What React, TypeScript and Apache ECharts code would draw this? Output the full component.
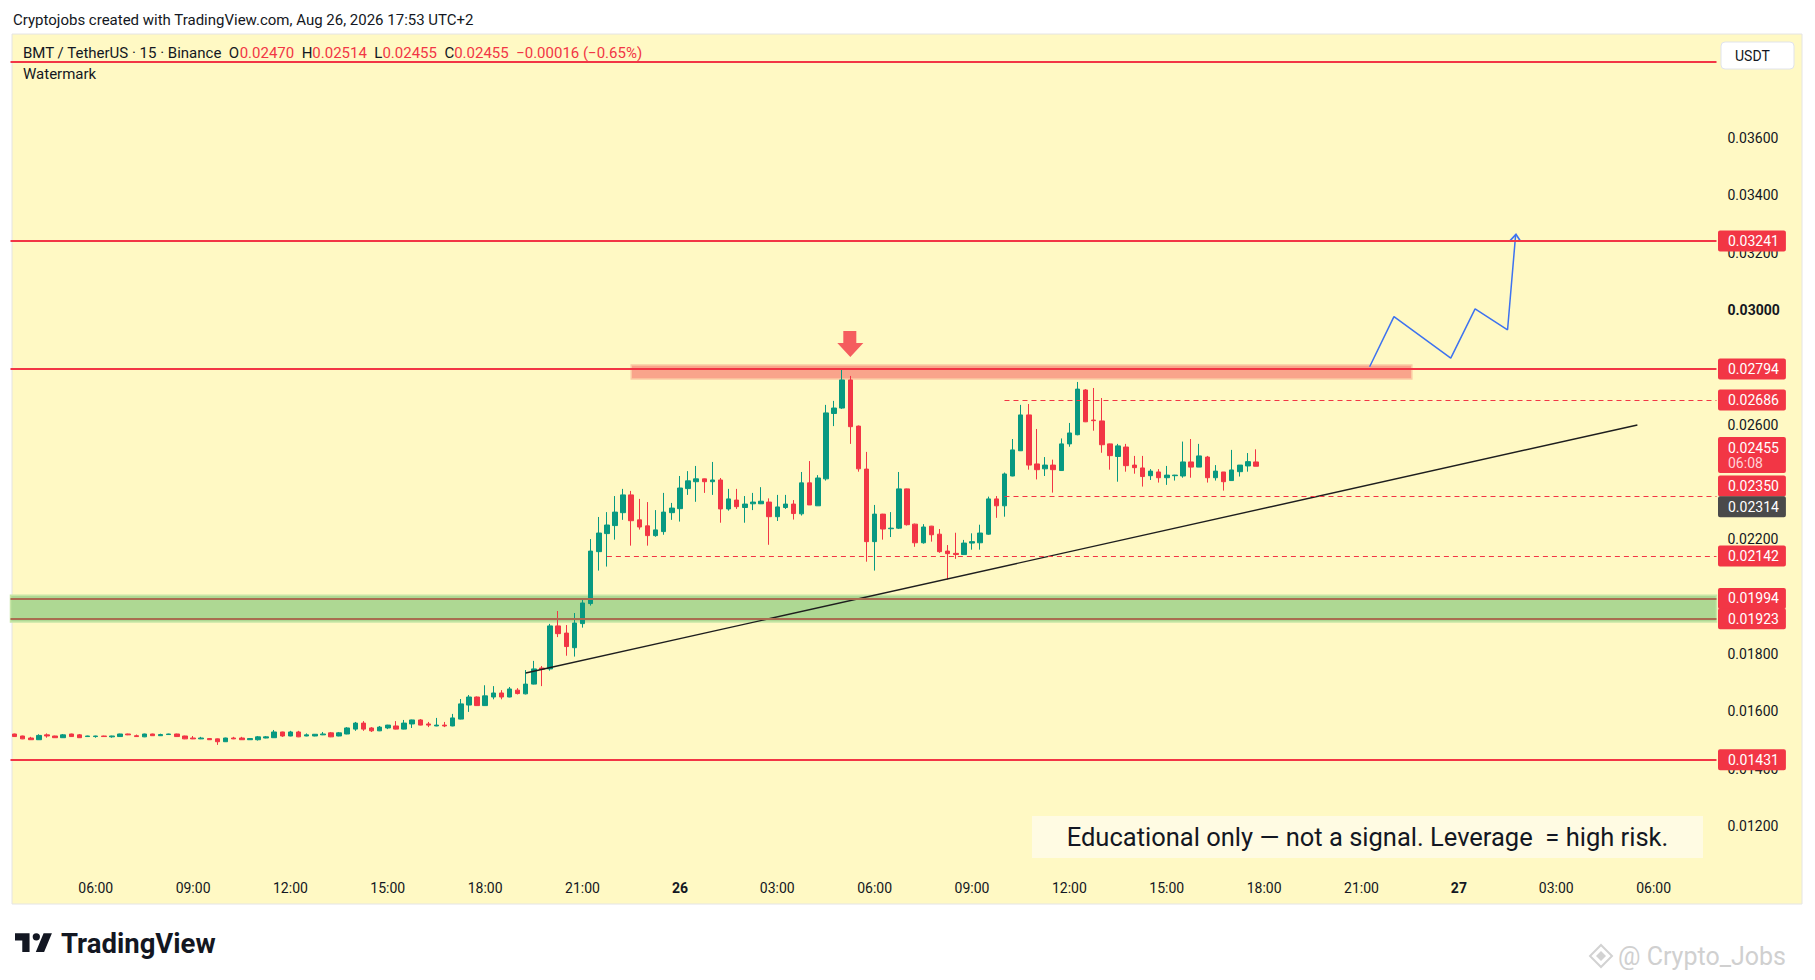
import React, { useEffect, useRef } from "react";
import * as echarts from "echarts";

const FONT = "Roboto, 'Noto Sans', sans-serif";
const UP = "#089981";
const DOWN = "#F23645";
const TEXT = "#131722";

// 15-minute candles, 25 Aug 03:30 -> 26 Aug 17:45 : [open, high, low, close]
const candles: number[][] = [
  [0.01521, 0.01522, 0.01511, 0.01512], [0.01514, 0.01515, 0.01503, 0.01504], [0.01507, 0.01511, 0.015, 0.01501],
  [0.01501, 0.0152, 0.015, 0.01516], [0.01518, 0.01523, 0.01508, 0.01514], [0.01514, 0.01515, 0.01507, 0.01508],
  [0.01508, 0.01521, 0.01507, 0.01518], [0.01521, 0.01522, 0.01511, 0.01512], [0.01518, 0.01521, 0.01507, 0.01508],
  [0.01512, 0.01515, 0.01511, 0.01514], [0.01512, 0.01515, 0.01508, 0.01514], [0.01514, 0.01515, 0.01511, 0.01512],
  [0.01511, 0.01515, 0.01508, 0.01514], [0.01512, 0.01522, 0.01511, 0.01521], [0.01521, 0.01522, 0.01517, 0.01518],
  [0.01515, 0.01519, 0.01511, 0.01512], [0.01511, 0.01522, 0.0151, 0.01521], [0.01521, 0.01522, 0.01514, 0.01515],
  [0.01515, 0.01522, 0.01514, 0.01519], [0.01519, 0.01522, 0.01518, 0.01521], [0.01521, 0.01522, 0.01511, 0.01512],
  [0.01514, 0.01515, 0.01503, 0.01504], [0.01507, 0.01514, 0.01503, 0.01504], [0.01504, 0.01511, 0.01503, 0.01507],
  [0.01505, 0.01507, 0.015, 0.01501], [0.01504, 0.01505, 0.01483, 0.01494], [0.01494, 0.01508, 0.01493, 0.01507],
  [0.01507, 0.01511, 0.01503, 0.01504], [0.01507, 0.01511, 0.015, 0.01501], [0.01501, 0.01507, 0.015, 0.01505],
  [0.01501, 0.01514, 0.01498, 0.01511], [0.01507, 0.01514, 0.01506, 0.01511], [0.01508, 0.01535, 0.01507, 0.01528],
  [0.01528, 0.01529, 0.01511, 0.01514], [0.01514, 0.01532, 0.01513, 0.01528], [0.01528, 0.01532, 0.0151, 0.01511],
  [0.01514, 0.01523, 0.01513, 0.01518], [0.01514, 0.01521, 0.01513, 0.0152], [0.01518, 0.01528, 0.01517, 0.01521],
  [0.01525, 0.01528, 0.0151, 0.01511], [0.01514, 0.01528, 0.01513, 0.01525], [0.01521, 0.01545, 0.0152, 0.01542],
  [0.01538, 0.01563, 0.01532, 0.01559], [0.01559, 0.01566, 0.01532, 0.01538], [0.01542, 0.01545, 0.01528, 0.01532],
  [0.01532, 0.01549, 0.01531, 0.01545], [0.01542, 0.01553, 0.01538, 0.01552], [0.01549, 0.01566, 0.01537, 0.01538],
  [0.01538, 0.0157, 0.01537, 0.01559], [0.01556, 0.01571, 0.01542, 0.0157], [0.0157, 0.01573, 0.01551, 0.01552],
  [0.01556, 0.01563, 0.01545, 0.01552], [0.01549, 0.01577, 0.01548, 0.01552], [0.01552, 0.01563, 0.01545, 0.01549],
  [0.01549, 0.01591, 0.01548, 0.01577], [0.01573, 0.01643, 0.01572, 0.01626], [0.01622, 0.01657, 0.01598, 0.0165],
  [0.0165, 0.01652, 0.01619, 0.0162], [0.0162, 0.01691, 0.01619, 0.01654], [0.0165, 0.01688, 0.01642, 0.01664],
  [0.01664, 0.01674, 0.01642, 0.0165], [0.0165, 0.01685, 0.01649, 0.01678], [0.01674, 0.01681, 0.01659, 0.01662],
  [0.01661, 0.01744, 0.01659, 0.01695], [0.01695, 0.01776, 0.01694, 0.01748], [0.01751, 0.01758, 0.01688, 0.01747],
  [0.01748, 0.01905, 0.01742, 0.01898], [0.01898, 0.0195, 0.01859, 0.01871], [0.01873, 0.01901, 0.01794, 0.01826],
  [0.01822, 0.01943, 0.01791, 0.01908], [0.01906, 0.01992, 0.01892, 0.01978], [0.01976, 0.02201, 0.01969, 0.02159],
  [0.02157, 0.02278, 0.02091, 0.02222], [0.0222, 0.02295, 0.02105, 0.0225], [0.02248, 0.02351, 0.02199, 0.02295],
  [0.02293, 0.02376, 0.02268, 0.02355], [0.02355, 0.02369, 0.02178, 0.02265], [0.02268, 0.02341, 0.02234, 0.02243],
  [0.02247, 0.0233, 0.02178, 0.02213], [0.02213, 0.02302, 0.02209, 0.02233], [0.02227, 0.02362, 0.02216, 0.02295],
  [0.02293, 0.02327, 0.02268, 0.02309], [0.02307, 0.02421, 0.02262, 0.02379], [0.02377, 0.02438, 0.02355, 0.02404],
  [0.02401, 0.02456, 0.02331, 0.02411], [0.02411, 0.02412, 0.02362, 0.02401], [0.02401, 0.0247, 0.02355, 0.02407],
  [0.02407, 0.02414, 0.02258, 0.02306], [0.02306, 0.02376, 0.023, 0.02341], [0.02337, 0.02376, 0.02306, 0.02314],
  [0.02311, 0.02351, 0.02258, 0.02323], [0.02324, 0.02362, 0.02302, 0.0233], [0.02324, 0.02382, 0.02323, 0.02333],
  [0.0233, 0.02343, 0.02181, 0.02279], [0.02279, 0.02355, 0.02264, 0.02313], [0.02311, 0.02355, 0.02306, 0.02323],
  [0.02323, 0.02337, 0.02269, 0.0229], [0.02289, 0.02435, 0.02283, 0.02397], [0.02397, 0.02473, 0.0232, 0.0232],
  [0.02317, 0.02424, 0.02317, 0.02414], [0.02411, 0.02669, 0.02405, 0.02641], [0.02639, 0.02683, 0.02595, 0.02658],
  [0.02658, 0.02791, 0.02655, 0.02756], [0.02756, 0.0277, 0.02533, 0.02593], [0.02595, 0.02597, 0.02436, 0.02446],
  [0.02445, 0.02505, 0.02122, 0.02192], [0.02192, 0.0232, 0.02091, 0.02288], [0.02288, 0.02289, 0.02199, 0.02236],
  [0.02237, 0.02295, 0.02208, 0.02239], [0.02239, 0.02435, 0.02236, 0.02376], [0.02376, 0.02377, 0.02248, 0.02251],
  [0.02253, 0.02255, 0.02174, 0.02188], [0.02188, 0.02253, 0.02185, 0.02243], [0.02246, 0.02247, 0.02192, 0.02216],
  [0.02218, 0.02236, 0.02153, 0.02157], [0.02159, 0.0218, 0.0206, 0.0215], [0.02151, 0.02223, 0.02132, 0.02147],
  [0.02147, 0.02198, 0.02146, 0.02187], [0.02187, 0.02221, 0.02164, 0.02192], [0.02188, 0.02251, 0.02164, 0.02222],
  [0.02218, 0.02349, 0.02216, 0.02341], [0.02341, 0.02351, 0.02275, 0.02317], [0.02317, 0.02433, 0.02279, 0.02428],
  [0.02421, 0.0255, 0.0242, 0.02512], [0.02509, 0.02669, 0.02508, 0.02634], [0.02634, 0.02672, 0.02443, 0.02459],
  [0.02463, 0.02585, 0.02409, 0.02443], [0.02446, 0.02487, 0.02421, 0.02459], [0.02459, 0.02478, 0.02363, 0.02443],
  [0.0244, 0.02552, 0.02439, 0.02533], [0.02533, 0.02606, 0.02523, 0.02571], [0.02565, 0.02749, 0.02563, 0.02724],
  [0.02721, 0.02724, 0.02609, 0.0261], [0.02616, 0.02728, 0.02579, 0.02614], [0.02613, 0.02693, 0.02502, 0.0253],
  [0.02533, 0.02534, 0.02443, 0.02492], [0.02489, 0.02533, 0.02401, 0.02526], [0.02522, 0.02533, 0.02436, 0.02457],
  [0.02459, 0.02491, 0.02429, 0.0245], [0.02449, 0.02491, 0.02384, 0.02419], [0.02422, 0.02445, 0.02407, 0.02438],
  [0.02435, 0.02445, 0.02398, 0.02415], [0.02415, 0.02456, 0.0239, 0.02424], [0.02422, 0.02425, 0.02405, 0.02424],
  [0.02421, 0.02541, 0.02415, 0.0247], [0.0247, 0.0255, 0.02415, 0.02452], [0.02452, 0.02533, 0.02452, 0.02491],
  [0.02487, 0.02491, 0.02398, 0.02415], [0.02415, 0.02459, 0.02405, 0.02438], [0.02435, 0.02435, 0.0237, 0.02401],
  [0.02405, 0.02512, 0.02405, 0.02442], [0.02436, 0.02459, 0.02419, 0.02459], [0.02456, 0.02501, 0.02436, 0.02471],
  [0.0247, 0.02514, 0.02455, 0.02455],
];

// x axis: candle index (0 = 25 Aug 03:30), visible range extends to 27 Aug 07:45
const xMin = -0.5;
const xMax = 209.75;
const timeTickIndex = [10, 22, 34, 46, 58, 70, 82, 94, 106, 118, 130, 142, 154, 166, 178, 190, 202];
const timeTickLabels = ["06:00", "09:00", "12:00", "15:00", "18:00", "21:00", "26", "03:00", "06:00", "09:00", "12:00", "15:00", "18:00", "21:00", "27", "03:00", "06:00"];
const boldTimeLabels = ["26", "27"];

// y axis (ticks hidden behind price badges in the reference are left out)
const yMin = 0.0104654;
const yMax = 0.0396628;
const priceTicks = [0.012, 0.014, 0.016, 0.018, 0.022, 0.026, 0.03, 0.032, 0.034, 0.036];
const boldPriceTick = 0.03;

// drawn levels
const topLine = 0.03865;
const solidRedLevels = [0.03241, 0.02794, 0.01431];
const supportLevels = [0.01994, 0.01923];
const supportZone = [0.02005, 0.01912];
const resistanceZone = { from: 76, to: 172.2, top: 0.02808, bottom: 0.02759 };
const dashedLevels = [0.02686, 0.0235, 0.02142];
const dashedStart = [122, 122, 73];
const level2350BadgeAt = 0.02386;
const lastPriceBadgeAt = 0.02494;
const countdown = "06:08";
const lowMarker = 0.02314;
const trendLine = [[63, 0.017337], [200, 0.025989]];
const projection = [[167, 0.02802], [170, 0.02977], [177, 0.02832], [180, 0.03004], [184, 0.02931], [185, 0.03264]];
const arrowPoint = [103, 0.02881];

const headerText = "Cryptojobs created with TradingView.com, Aug 26, 2026 17:53 UTC+2";
const symbolText = "BMT / TetherUS · 15 · Binance";
const noteText = "Educational only — not a signal. Leverage  = high risk.";

const fmt = (v: number) => v.toFixed(5);

export default function App() {
  const ref = useRef<HTMLDivElement>(null);

  useEffect(() => {
    if (!ref.current) return;
    echarts.graphic.registerShape(
      "tvlogo",
      echarts.graphic.extendPath(
        "M0 4H14V22H7V11H0Z M17 7.5A3.5 3.5 0 1 0 24 7.5A3.5 3.5 0 1 0 17 7.5Z M20 22L27.5 4H35.5L28 22Z",
        {}
      )
    );
    const chart = echarts.init(ref.current, undefined, { renderer: "svg" });

    const last = candles[candles.length - 1];
    const prevClose = candles[candles.length - 2][3];
    const ch = last[3] - prevClose;
    const pct = (ch / prevClose) * 100;
    const chStr = (ch < 0 ? "−" : "+") + Math.abs(ch).toFixed(5) + " (" + (pct < 0 ? "−" : "+") + Math.abs(pct).toFixed(2) + "%)";
    const legendStr =
      `{n|${symbolText}  O}{r|${fmt(last[0])}}{n|  H}{r|${fmt(last[1])}}{n|  L}{r|${fmt(last[2])}}{n|  C}{r|${fmt(last[3])}}{r|  ${chStr}}`;

    const badge = (text: string, bg: string = DOWN) => ({
      show: true,
      position: "end",
      distance: 1.5,
      formatter: text,
      color: "#ffffff",
      backgroundColor: bg,
      padding: [3, 7, 3, 10],
      fontSize: 14,
      fontFamily: FONT,
      lineHeight: 15,
      borderRadius: 2,
    });
    const hidden = { color: "rgba(0,0,0,0)", width: 0 };

    const markLineData: any[] = [
      { yAxis: topLine, lineStyle: { color: DOWN, width: 2, type: "solid" }, label: { show: false } },
      ...solidRedLevels.map((v) => ({ yAxis: v, lineStyle: { color: DOWN, width: 2, type: "solid" }, label: badge(fmt(v)) })),
      ...supportLevels.map((v) => ({ yAxis: v, lineStyle: { color: "#A96D50", width: 2, type: "solid" }, label: badge(fmt(v)) })),
      ...dashedLevels.map((v, k) => [
        {
          coord: [dashedStart[k], v],
          lineStyle: { color: DOWN, width: 1.2, type: [5, 4] },
          label: v === 0.0235 ? { show: false } : badge(fmt(v)),
        },
        { coord: [xMax, v] },
      ]),
      { yAxis: level2350BadgeAt, lineStyle: hidden, label: badge(fmt(0.0235)) },
      {
        yAxis: lastPriceBadgeAt,
        lineStyle: hidden,
        label: {
          ...badge(""),
          formatter: `{p|${fmt(last[3])}}\n{t|${countdown}}`,
          rich: {
            p: { color: "#ffffff", fontSize: 14, fontFamily: FONT, lineHeight: 15 },
            t: { color: "#FFD3D7", fontSize: 14, fontFamily: FONT, lineHeight: 15 },
          },
        },
      },
      { yAxis: lowMarker, lineStyle: hidden, label: badge(fmt(lowMarker), "#4A4A4A") },
    ];

    const option: any = {
      animation: false,
      backgroundColor: "#ffffff",
      grid: { left: 10.5, top: 33, width: 1706, height: 837, containLabel: false },
      xAxis: {
        type: "value",
        min: xMin,
        max: xMax,
        axisLine: { show: false },
        axisTick: { show: false },
        splitLine: { show: false },
        axisLabel: {
          customValues: timeTickIndex,
          margin: 11,
          fontSize: 14,
          fontFamily: FONT,
          color: TEXT,
          formatter: (v: number) => {
            const k = timeTickIndex.indexOf(Math.round(v));
            const s = k >= 0 ? timeTickLabels[k] : "";
            return boldTimeLabels.includes(s) ? `{b|${s}}` : s;
          },
          rich: { b: { fontWeight: "bold", fontSize: 14, fontFamily: FONT, color: TEXT } },
        },
      },
      yAxis: {
        type: "value",
        position: "right",
        min: yMin,
        max: yMax,
        axisLine: { show: false },
        axisTick: { show: false },
        splitLine: { show: false },
        axisLabel: {
          customValues: priceTicks,
          margin: 11,
          fontSize: 14,
          fontFamily: FONT,
          color: TEXT,
          formatter: (v: number) => (Math.abs(v - boldPriceTick) < 1e-9 ? `{b|${fmt(v)}}` : fmt(v)),
          rich: { b: { fontWeight: "bold", fontSize: 14, fontFamily: FONT, color: TEXT } },
        },
      },
      series: [
        {
          type: "line",
          data: [],
          z: 1,
          clip: false,
          silent: true,
          markArea: {
            silent: true,
            data: [
              [
                { yAxis: supportZone[0], itemStyle: { color: "#AED893", borderColor: "#C8E6A6", borderWidth: 1.5 } },
                { yAxis: supportZone[1] },
              ],
              [
                {
                  coord: [resistanceZone.from, resistanceZone.top],
                  itemStyle: { color: "#F9A48B", borderColor: "#FCCAA4", borderWidth: 1.5 },
                },
                { coord: [resistanceZone.to, resistanceZone.bottom] },
              ],
            ],
          },
        },
        {
          type: "candlestick",
          z: 2,
          barWidth: 5,
          data: candles.map((c, i) => [i, c[0], c[3], c[2], c[1]]),
          itemStyle: { color: UP, color0: DOWN, borderColor: UP, borderColor0: DOWN, borderWidth: 1 },
        },
        {
          type: "line",
          data: [],
          z: 3,
          clip: false,
          silent: true,
          markLine: { silent: true, precision: 6, symbol: ["none", "none"], data: markLineData },
        },
        {
          type: "line",
          z: 4,
          clip: false,
          silent: true,
          symbol: "none",
          data: trendLine,
          lineStyle: { color: "#1E1E1E", width: 1.4 },
        },
        {
          type: "line",
          z: 4,
          clip: false,
          silent: true,
          symbol: "none",
          itemStyle: { color: "#3D72F0" },
          lineStyle: { color: "#3D72F0", width: 1.5 },
          data: projection.map((p, i) =>
            i === projection.length - 1
              ? {
                  value: p,
                  symbol: "path://M0,8 L5,0 L10,8",
                  symbolSize: [11, 7],
                  symbolOffset: [0, 3.5],
                  symbolRotate: -5,
                  itemStyle: { color: "rgba(0,0,0,0)", borderColor: "#3D72F0", borderWidth: 1.5 },
                }
              : { value: p }
          ),
        },
        {
          type: "scatter",
          z: 5,
          clip: false,
          silent: true,
          symbol: "path://M6,0 L19,0 L19,12 L26,12 L13,26 L0,12 L6,12 Z",
          symbolSize: [26, 26],
          itemStyle: { color: DOWN },
          data: [arrowPoint],
        },
      ],
      graphic: [
        {
          type: "rect",
          z: -100,
          silent: true,
          shape: { x: 12, y: 34, width: 1790, height: 870 },
          style: { fill: "#FFF9C4", stroke: "#E4E4E4", lineWidth: 1 },
        },
        {
          type: "text",
          x: 13,
          y: 20,
          style: { text: headerText, fontFamily: FONT, fontSize: 15, fill: TEXT, verticalAlign: "middle" },
        },
        {
          type: "text",
          x: 23,
          y: 53,
          style: {
            text: legendStr,
            verticalAlign: "middle",
            fontFamily: FONT,
            fontSize: 15,
            rich: {
              n: { fontFamily: FONT, fontSize: 15, fill: TEXT, color: TEXT },
              r: { fontFamily: FONT, fontSize: 15, fill: DOWN, color: DOWN },
            },
          },
        },
        {
          type: "text",
          x: 23,
          y: 74,
          style: { text: "Watermark", fontFamily: FONT, fontSize: 15, fill: TEXT, verticalAlign: "middle" },
        },
        {
          type: "rect",
          shape: { x: 1721, y: 42, width: 73, height: 27, r: 4 },
          style: { fill: "#FFFFFF", stroke: "#E0E3EB", lineWidth: 1 },
        },
        {
          type: "text",
          x: 1735,
          y: 55.5,
          style: { text: "USDT", fontFamily: FONT, fontSize: 14, fill: TEXT, verticalAlign: "middle" },
        },
        {
          type: "rect",
          shape: { x: 1032, y: 816, width: 671, height: 42 },
          style: { fill: "#FFFBE3" },
        },
        {
          type: "text",
          x: 1367.5,
          y: 837,
          style: {
            text: noteText,
            fontFamily: FONT,
            fontSize: 25.5,
            fill: "#131722",
            align: "center",
            verticalAlign: "middle",
          },
        },
        {
          type: "tvlogo",
          x: 15,
          y: 929,
          scaleX: 1.04,
          scaleY: 1.04,
          style: { fill: "#131722" },
        },
        {
          type: "text",
          x: 61,
          y: 943,
          style: {
            text: "TradingView",
            fontFamily: FONT,
            fontSize: 27.5,
            fontWeight: "bold",
            fill: "#131722",
            verticalAlign: "middle",
          },
        },
        {
          type: "polygon",
          shape: { points: [[1601, 945], [1612, 956], [1601, 967], [1590, 956]] },
          style: { fill: "none", stroke: "#D2D2D2", lineWidth: 2 },
        },
        {
          type: "polygon",
          shape: { points: [[1601, 951], [1606, 956], [1601, 961], [1596, 956]] },
          style: { fill: "#D2D2D2" },
        },
        {
          type: "text",
          x: 1618,
          y: 956,
          style: {
            text: "@ Crypto_Jobs",
            fontFamily: FONT,
            fontSize: 25,
            fill: "#D0D0D0",
            verticalAlign: "middle",
          },
        },
      ],
    };

    chart.setOption(option);
    return () => chart.dispose();
  }, []);

  return (
    <div
      style={{ position: "fixed", left: 0, top: 0, width: 1815, height: 980, background: "#ffffff" }}
    >
      <div ref={ref} style={{ width: 1815, height: 980 }} />
    </div>
  );
}
